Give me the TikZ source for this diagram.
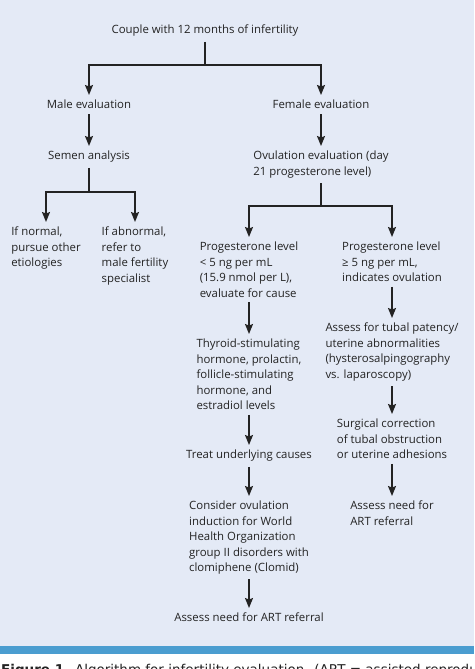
\documentclass[tikz,border=0pt]{standalone}
\usepackage{fontspec}
\setmainfont{Open Sans}
\newfontfamily\capfont{DejaVu Sans}
\usetikzlibrary{arrows.meta}

\definecolor{panel}{RGB}{228,234,246}
\definecolor{bar}{RGB}{74,157,208}
\definecolor{ink}{RGB}{35,35,35}

\begin{document}
\begin{tikzpicture}[x=1pt,y=-1pt,>={Stealth[length=10pt,width=8pt,inset=1.5pt]},
	box/.style={inner xsep=0pt,inner ysep=5pt,anchor=north,align=left,text=ink,
		font=\fontsize{11.4}{15.4}\selectfont},
	link/.style={line width=1.4pt,draw=ink}]
	\useasboundingbox (0,0) rectangle (474,669);
	
	%panel
	\fill[panel] (0,0) rectangle (474,646);
	\fill[bar]   (0,646) rectangle (474,654);
	\fill[white] (0,654) rectangle (474,669);
	
	%boxes
	\node[box] (couple)   at (205,20)  {Couple with 12 months of infertility};
	\node[box] (male)     at (89,95)   {Male evaluation};
	\node[box] (female)   at (321,95)  {Female evaluation};
	\node[box] (semen)    at (89,146)  {Semen analysis};
	\node[box] (ovul)     at (321,146) {Ovulation evaluation (day\\21 progesterone level)};
	\node[box] (normal)   at (46,222)  {If normal,\\pursue other\\etiologies};
	\node[box] (abnormal) at (135,222) {If abnormal,\\refer to\\male fertility\\specialist};
	\node[box] (proglow)  at (249,237) {Progesterone level\\< 5 ng per mL\\(15.9 nmol per L),\\evaluate for cause};
	\node[box] (proghigh) at (392,237) {Progesterone level\\≥ 5 ng per mL,\\indicates ovulation};
	\node[box] (tubal)    at (392,318) {Assess for tubal patency/\\uterine abnormalities\\(hysterosalpingography\\vs. laparoscopy)};
	\node[box] (thyroid)  at (249,334) {Thyroid-stimulating\\hormone, prolactin,\\follicle-stimulating\\hormone, and\\estradiol levels};
	\node[box] (surgery)  at (392,414) {Surgical correction\\of tubal obstruction\\or uterine adhesions};
	\node[box] (treat)    at (249,445) {Treat underlying causes};
	\node[box] (induce)   at (249,496) {Consider ovulation\\induction for World\\Health Organization\\group II disorders with\\clomiphene (Clomid)};
	\node[box] (artright) at (392,496) {Assess need for\\ART referral};
	\node[box] (artleft)  at (249,608) {Assess need for ART referral};
	
	%splits
	\coordinate (split1) at (205,65);
	\coordinate (split2) at (89,192);
	\coordinate (split3) at (321,206);
	
	%arrows
	\draw[link]    (couple.south) -- (split1);
	\draw[link,->] (split1) -| (male.north);
	\draw[link,->] (split1) -| (female.north);
	\draw[link,->] (male) -- (semen);
	\draw[link,->] (female) -- (ovul);
	\draw[link]    (semen.south) -- (split2);
	\draw[link,->] (split2) -| (normal.north);
	\draw[link,->] (split2) -| (abnormal.north);
	\draw[link]    (ovul.south) -- (split3);
	\draw[link,->] (split3) -| (proglow.north);
	\draw[link,->] (split3) -| (proghigh.north);
	\draw[link,->] (proglow) -- (thyroid);		%left column
	\draw[link,->] (thyroid) -- (treat);
	\draw[link,->] (treat) -- (induce);
	\draw[link,->] (induce) -- (artleft);
	\draw[link,->] (proghigh) -- (tubal);		%right column
	\draw[link,->] (tubal) -- (surgery);
	\draw[link,->] (surgery) -- (artright);
	
	%caption, cut by the page edge
	\begin{scope}
		\clip (0,0) rectangle (474,669);
		\node[anchor=base west,inner sep=0pt,text=ink,font=\capfont\fontsize{13.5}{16}\selectfont] (caption) at (1,674)
			{\textbf{Figure 1.} Algorithm for infertility evaluation. (ART = assisted reproductive};
	\end{scope}
\end{tikzpicture}
\end{document}
